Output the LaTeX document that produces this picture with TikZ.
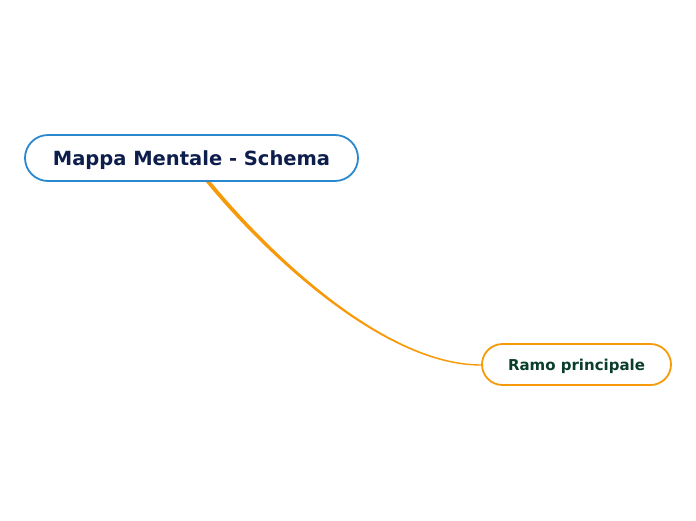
\documentclass[tikz,border=0pt]{standalone}
\usepackage{fontspec}
\setmainfont{DejaVu Sans}
\definecolor{mainblue}{HTML}{2A88CF}
\definecolor{titlenavy}{HTML}{0E1E4C}
\definecolor{branchorange}{HTML}{F79A0A}
\definecolor{branchgreen}{HTML}{0A3D2A}
\tikzset{
  mainnode/.style={draw=mainblue, line width=1.8pt, fill=white, rounded corners=23pt,
    minimum width=333pt, minimum height=46pt, inner sep=0pt,
    text height=18pt, text depth=2.8pt,
    text=titlenavy, font=\fontsize{19.5}{22}\selectfont\bfseries},
  branchnode/.style={draw=branchorange, line width=1.8pt, fill=white, rounded corners=20.5pt,
    minimum width=189pt, minimum height=41pt, inner sep=0pt,
    text height=14pt, text depth=2.5pt,
    text=branchgreen, font=\fontsize{15}{18}\selectfont\bfseries},
  connector/.style={fill=branchorange, draw=none}
}
\begin{document}
\begin{tikzpicture}[x=1pt,y=-1pt]
\useasboundingbox (0,0) rectangle (696,520);
\coordinate (cA) at (211,182);
\coordinate (cB) at (206,182);
\coordinate (eA) at (481,364.3);
\coordinate (eB) at (481,365.7);
\fill[connector] (cA) .. controls (261.5,243.6) and (380,364.2) .. (eA)
  -- (eB) .. controls (380,365.8) and (258.5,246.4) .. (cB) -- cycle;
\node[mainnode] (main) at (191.5,158) {Mappa Mentale - Schema};
\node[branchnode] (branch) at (576.5,364.5) {Ramo principale};
\end{tikzpicture}
\end{document}
